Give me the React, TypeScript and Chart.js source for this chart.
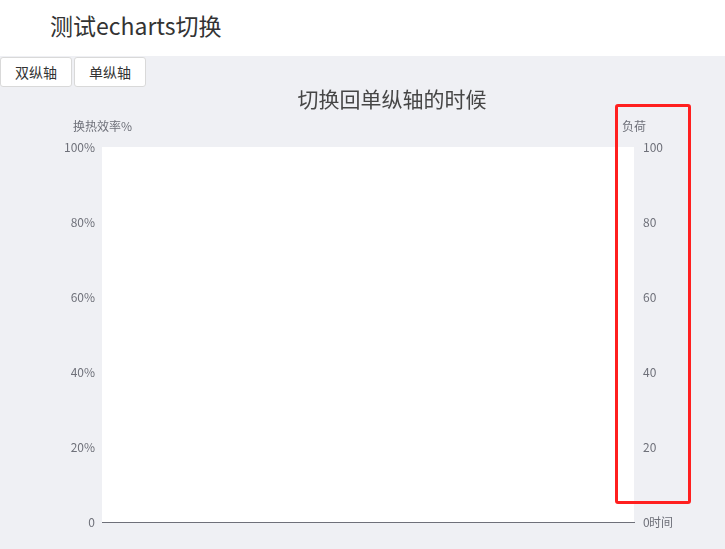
import React, { useEffect, useRef } from 'react';
import { Chart, registerables } from 'chart.js';

Chart.register(...registerables);

// chart content (the reference shows the empty single-axis state)
const categories: string[] = [''];
const efficiencyValues: (number | null)[] = [null];
const loadValues: (number | null)[] = [null];
const leftTicks = [0, 20, 40, 60, 80, 100];
const rightTicks = [0, 20, 40, 60, 80, 100];

const chartTitle = '切换回单纵轴的时候';
const leftAxisName = '换热效率%';
const rightAxisName = '负荷';
const xAxisName = '时间';

const FONT = '"Noto Sans CJK SC", "Noto Sans", sans-serif';
const AXIS_COLOR = '#6e7079';
const BG = '#eff0f4';

const decorPlugin = {
  id: 'decor',
  beforeDraw(chart: any) {
    const { ctx, chartArea } = chart;
    ctx.save();
    ctx.fillStyle = '#ffffff';
    ctx.fillRect(chartArea.left, chartArea.top, chartArea.right - chartArea.left, chartArea.bottom - chartArea.top);
    ctx.restore();
  },
  afterDraw(chart: any) {
    const { ctx, chartArea } = chart;
    ctx.save();
    ctx.fillStyle = '#464646';
    ctx.font = `21px ${FONT}`;
    ctx.textAlign = 'center';
    ctx.textBaseline = 'middle';
    ctx.fillText(chartTitle, 392, 43);

    ctx.fillStyle = AXIS_COLOR;
    ctx.font = `12px ${FONT}`;
    ctx.textAlign = 'left';
    ctx.fillText(leftAxisName, 73, 70);
    ctx.fillText(rightAxisName, 622, 70);
    ctx.fillText(xAxisName, 649, chartArea.bottom);

    // small tick at the category centre
    ctx.strokeStyle = AXIS_COLOR;
    ctx.lineWidth = 1;
    const cx = Math.round((chartArea.left + chartArea.right) / 2) + 0.5;
    ctx.beginPath();
    ctx.moveTo(cx, chartArea.bottom);
    ctx.lineTo(cx, chartArea.bottom + 1);
    ctx.stroke();
    ctx.restore();
  },
};

function ChartBox() {
  const canvasRef = useRef<HTMLCanvasElement | null>(null);
  const chartRef = useRef<Chart | null>(null);

  useEffect(() => {
    const ctx = canvasRef.current?.getContext('2d');
    if (!ctx) return;
    try { chartRef.current?.destroy(); } catch {}

    chartRef.current = new Chart(ctx, {
      type: 'line',
      data: {
        labels: categories,
        datasets: [
          { label: '换热效率', data: efficiencyValues, yAxisID: 'y', borderColor: '#5470c6' },
          { label: '负荷', data: loadValues, yAxisID: 'y1', borderColor: '#91cc75' },
        ],
      },
      options: {
        animation: false,
        responsive: false,
        maintainAspectRatio: false,
        layout: { padding: { top: 91, left: 0, right: 0, bottom: 0 } },
        plugins: {
          legend: { display: false },
          title: { display: false },
          tooltip: { enabled: false },
        },
        scales: {
          x: {
            type: 'category',
            grid: { display: false, drawTicks: false },
            border: { display: true, color: AXIS_COLOR, width: 1 },
            ticks: { display: false },
            afterFit: (s: any) => { s.height = 27; },
          },
          y: {
            position: 'left',
            min: 0,
            max: 100,
            afterBuildTicks: (s: any) => { s.ticks = leftTicks.map((v) => ({ value: v })); },
            grid: { display: false, drawTicks: false },
            border: { display: false },
            ticks: {
              padding: 7,
              color: AXIS_COLOR,
              font: { family: FONT, size: 12 },
              callback: (v: any) => (v === 0 ? '0' : `${v}%`),
            },
            afterFit: (s: any) => { s.width = 102; },
          },
          y1: {
            position: 'right',
            min: 0,
            max: 100,
            afterBuildTicks: (s: any) => { s.ticks = rightTicks.map((v) => ({ value: v })); },
            grid: { display: false, drawTicks: false },
            border: { display: false },
            ticks: {
              padding: 9,
              color: AXIS_COLOR,
              font: { family: FONT, size: 12 },
            },
            afterFit: (s: any) => { s.width = 91; },
          },
        },
      },
      plugins: [decorPlugin],
    } as any);

    return () => {
      try { chartRef.current?.destroy(); } catch {}
      chartRef.current = null;
    };
  }, []);

  return <canvas ref={canvasRef} width={725} height={493} style={{ display: 'block', width: 725, height: 493 }} />;
}

const btn: React.CSSProperties = {
  position: 'absolute',
  top: 1,
  height: 30,
  width: 72,
  boxSizing: 'border-box',
  background: '#fff',
  border: '1px solid #d9d9d9',
  borderRadius: 3,
  fontFamily: FONT,
  fontSize: 14,
  color: '#333',
  padding: 0,
};

export default function App() {
  useEffect(() => {
    document.body.style.margin = '0';
  }, []);

  return (
    <div style={{ width: 725, height: 549, position: 'relative', overflow: 'hidden', background: '#fff', fontFamily: FONT }}>
      <div style={{ position: 'absolute', left: 50, top: 9, fontSize: 23, lineHeight: '32px', color: '#333' }}>
        测试echarts切换
      </div>
      <div style={{ position: 'absolute', left: 0, top: 56, width: 725, height: 493, background: BG }}>
        <ChartBox />
        <button style={{ ...btn, left: 0 }}>双纵轴</button>
        <button style={{ ...btn, left: 74 }}>单纵轴</button>
        <div
          style={{
            position: 'absolute',
            left: 615,
            top: 48,
            width: 76,
            height: 400,
            boxSizing: 'border-box',
            border: '3px solid #ff1f1f',
            borderRadius: 3,
          }}
        />
      </div>
    </div>
  );
}
